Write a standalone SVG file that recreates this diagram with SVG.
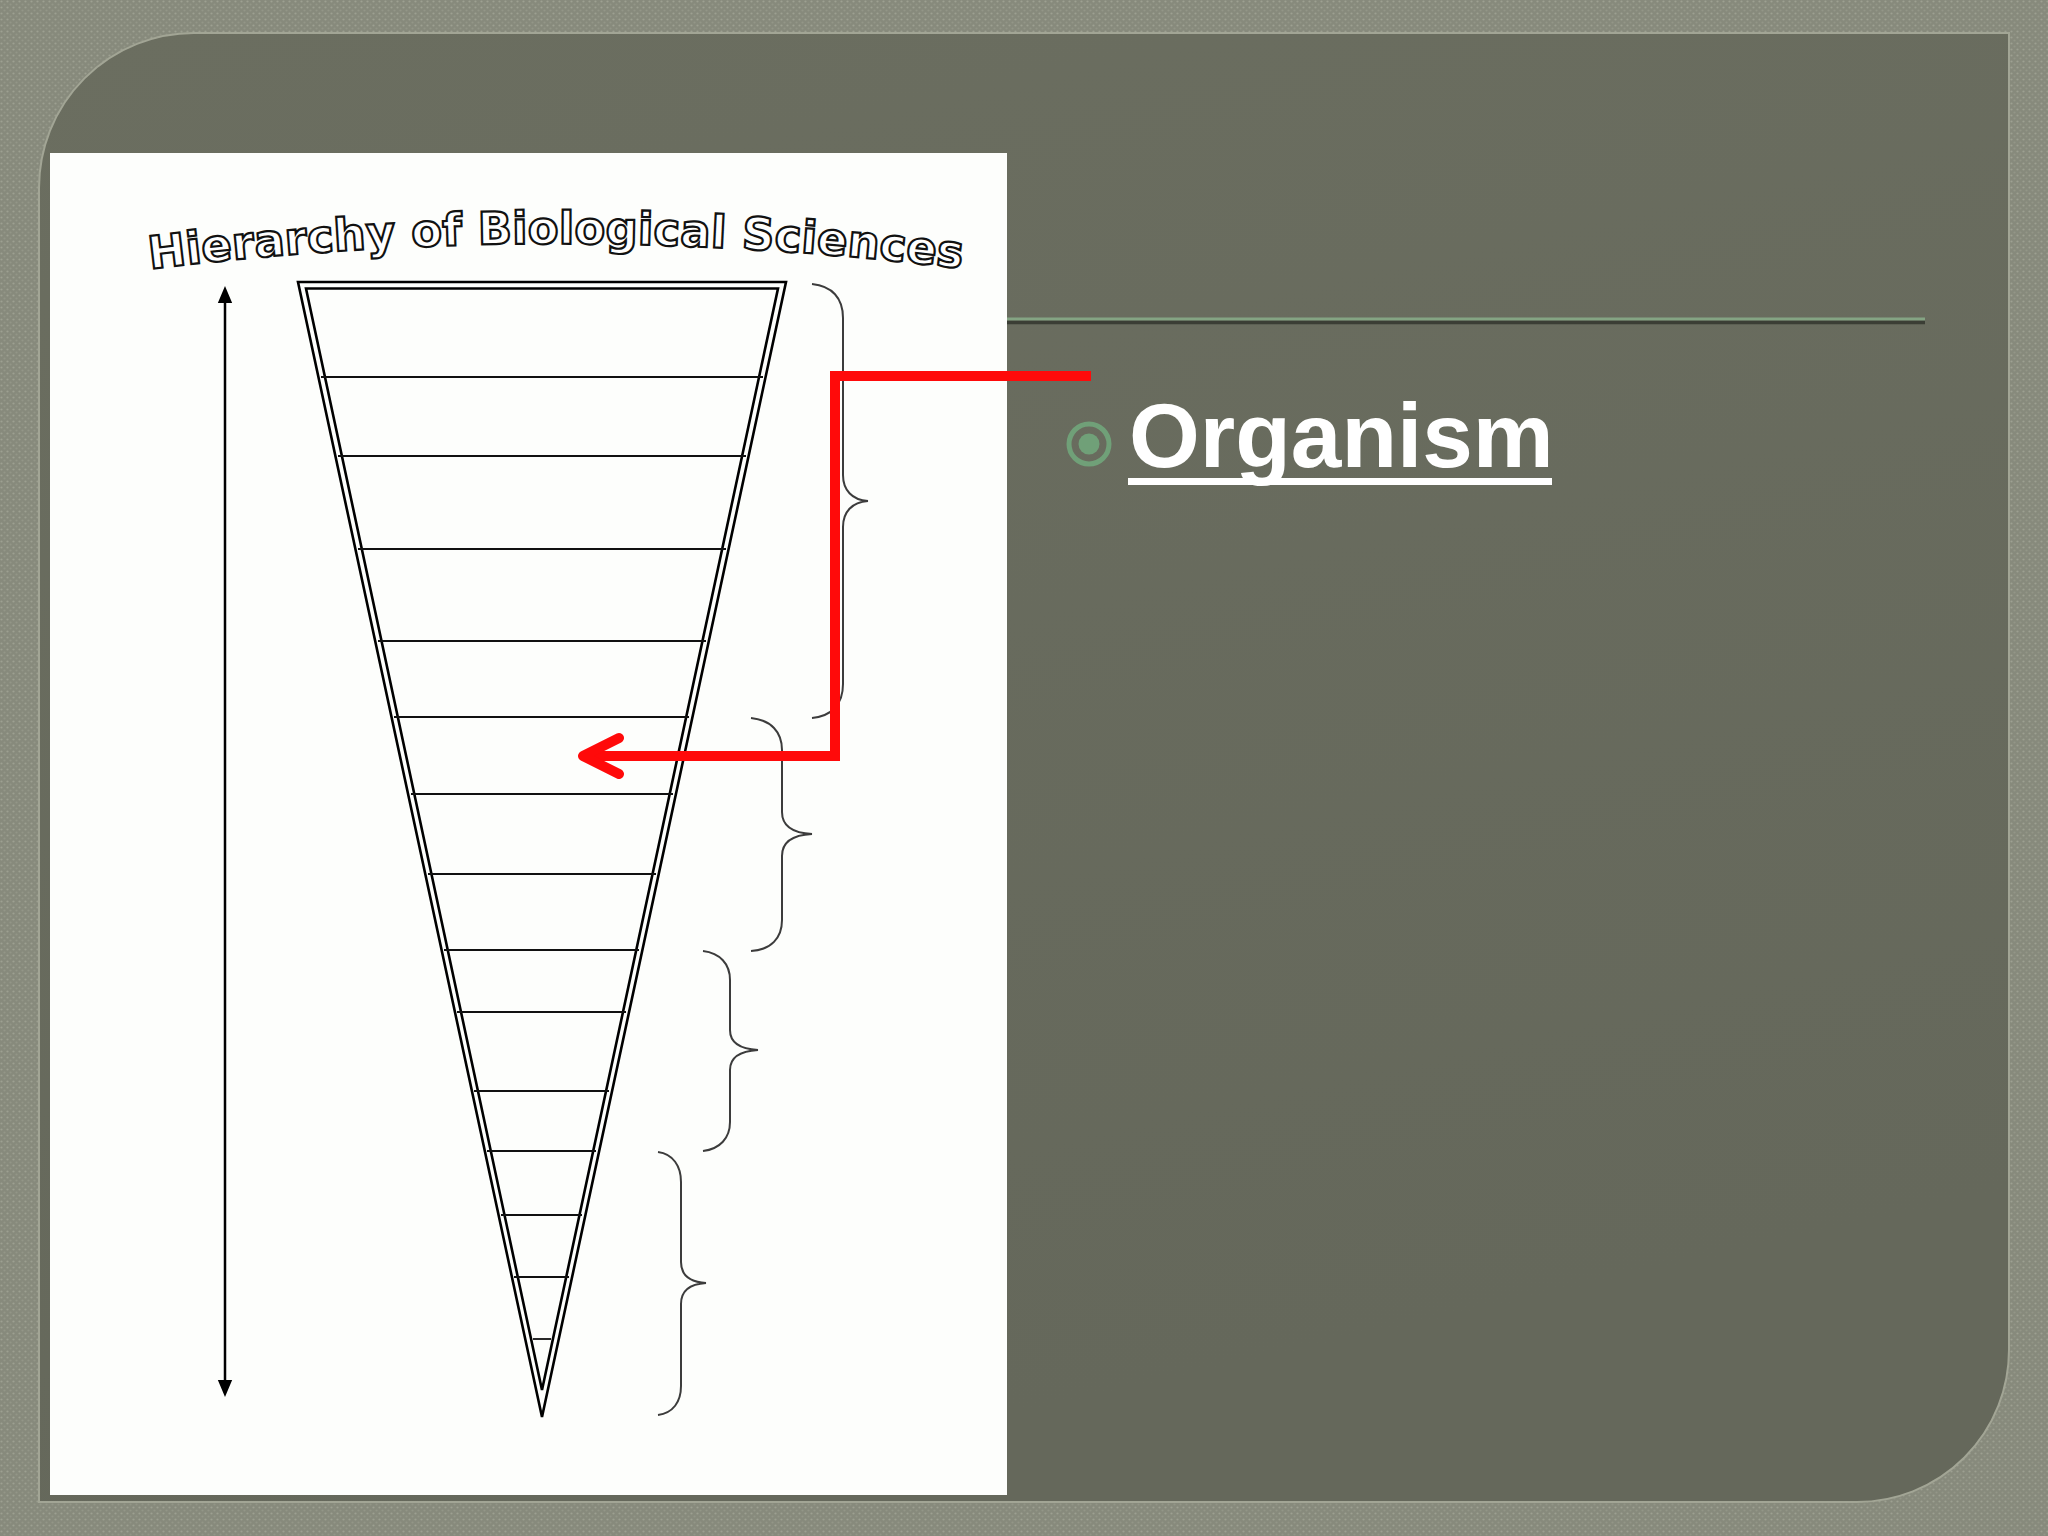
<svg xmlns="http://www.w3.org/2000/svg" width="2048" height="1536" viewBox="0 0 2048 1536">
  <defs>
    <pattern id="tex" width="6" height="6" patternUnits="userSpaceOnUse">
      <rect width="6" height="6" fill="#878a7c"/>
      <circle cx="1.5" cy="1.5" r="1.1" fill="#9da091"/>
      <circle cx="4.5" cy="4.5" r="1.1" fill="#939687"/>
    </pattern>
    <linearGradient id="panelGrad" x1="0" y1="0" x2="0.3" y2="1">
      <stop offset="0" stop-color="#6b6e60"/>
      <stop offset="1" stop-color="#65685b"/>
    </linearGradient>
    <marker id="blackHead" viewBox="0 0 18 18" refX="2" refY="9" markerWidth="18" markerHeight="18" markerUnits="userSpaceOnUse" orient="auto-start-reverse">
      <path d="M0,9 L-2,1 L17,9 L-2,17 Z" fill="#000"/>
    </marker>
    <path id="titleArc" d="M 150 269 A 3300 3300 0 0 1 966 269"/>
    <style>
      .tri { fill: none; stroke: #000; stroke-width: 2.6; stroke-linejoin: miter; }
      .rung { stroke: #111; stroke-width: 1.8; }
      .brace { fill: none; stroke: #3c3c3c; stroke-width: 2; }
      .title { font-family: "DejaVu Sans", "Liberation Sans", Arial, sans-serif; font-weight: bold; font-size: 45px; fill: #ffffff; stroke: #111; stroke-width: 2.2; }
      .label { font-family: "Liberation Sans", Arial, sans-serif; font-weight: bold; font-size: 91px; fill: #ffffff; }
      .red { fill: none; stroke: #ff0a0a; stroke-width: 10; }
    </style>
  </defs>

  <!-- background -->
  <rect x="0" y="0" width="2048" height="1536" fill="url(#tex)"/>
  <path d="M 39 188 A 155 155 0 0 1 194 33 L 2009 33 L 2009 1350 A 152 152 0 0 1 1857 1502 L 39 1502 Z" fill="url(#panelGrad)" stroke="#a2a595" stroke-width="2"/>

  <!-- header rule -->
  <g id="header-rule">
    <line x1="1007" y1="319" x2="1925" y2="319" stroke="#84a483" stroke-width="3"/>
    <line x1="1007" y1="322.5" x2="1925" y2="322.5" stroke="#3b3e35" stroke-width="3.5"/>
  </g>

  <!-- white picture -->
  <rect x="50" y="153" width="957" height="1342" fill="#fdfefc"/>

  <g id="title">
    <text class="title"><textPath href="#titleArc" textLength="814" lengthAdjust="spacing">Hierarchy of Biological Sciences</textPath></text>
  </g>

  <g id="vertical-arrow">
    <line x1="225" y1="301" x2="225" y2="1382" stroke="#000" stroke-width="2.5" marker-start="url(#blackHead)" marker-end="url(#blackHead)"/>
  </g>

  <g id="triangle">
    <polygon class="tri" points="298,282 786,282 542,1417"/>
    <polygon class="tri" points="306,288.5 778,288.5 542,1390"/>
    <line class="rung" x1="321" y1="377" x2="763" y2="377"/>
    <line class="rung" x1="338" y1="456" x2="746" y2="456"/>
    <line class="rung" x1="358" y1="549" x2="726" y2="549"/>
    <line class="rung" x1="378" y1="641" x2="706" y2="641"/>
    <line class="rung" x1="394" y1="717" x2="689" y2="717"/>
    <line class="rung" x1="411" y1="794" x2="673" y2="794"/>
    <line class="rung" x1="428" y1="874" x2="656" y2="874"/>
    <line class="rung" x1="444" y1="950" x2="639" y2="950"/>
    <line class="rung" x1="457" y1="1012" x2="626" y2="1012"/>
    <line class="rung" x1="474" y1="1091" x2="609" y2="1091"/>
    <line class="rung" x1="487" y1="1151" x2="596" y2="1151"/>
    <line class="rung" x1="501" y1="1215" x2="582" y2="1215"/>
    <line class="rung" x1="514" y1="1277" x2="569" y2="1277"/>
    <line class="rung" x1="533" y1="1339" x2="551" y2="1339"/>
  </g>

  <g id="braces">
    <path class="brace" d="M812,284 C832,286 843,298 843,318 L843,475 C843,490 852,500 868,501 C852,502 843,512 843,527 L843,684 C843,704 832,716 812,718"/>
    <path class="brace" d="M751,718 C771,720 782,732 782,750 L782,812 C782,826 792,833 812,834 C792,835 782,842 782,856 L782,920 C782,938 771,950 751,951"/>
    <path class="brace" d="M703,951 C720,953 730,964 730,980 L730,1030 C730,1043 740,1049 758,1050 C740,1051 730,1057 730,1070 L730,1122 C730,1138 720,1149 703,1151"/>
    <path class="brace" d="M658,1152 C673,1154 681,1166 681,1182 L681,1262 C681,1276 690,1282 706,1283 C690,1284 681,1290 681,1304 L681,1386 C681,1402 673,1413 658,1415"/>
  </g>

  <g id="organism-label">
    <circle cx="1089" cy="444" r="20" fill="none" stroke="#70a078" stroke-width="5"/>
    <circle cx="1089" cy="444" r="10.5" fill="#70a078"/>
    <text class="label" x="1129" y="467">Organism</text>
    <rect x="1128" y="478" width="424" height="7" fill="#ffffff"/>
  </g>

  <g id="connectors">
    <path class="red" d="M 1091 376 H 835 V 756 H 590" stroke-linejoin="miter"/>
    <path class="red" d="M 619 738 L 583 756 L 619 774" stroke-linecap="round" stroke-linejoin="round"/>
  </g>
</svg>
